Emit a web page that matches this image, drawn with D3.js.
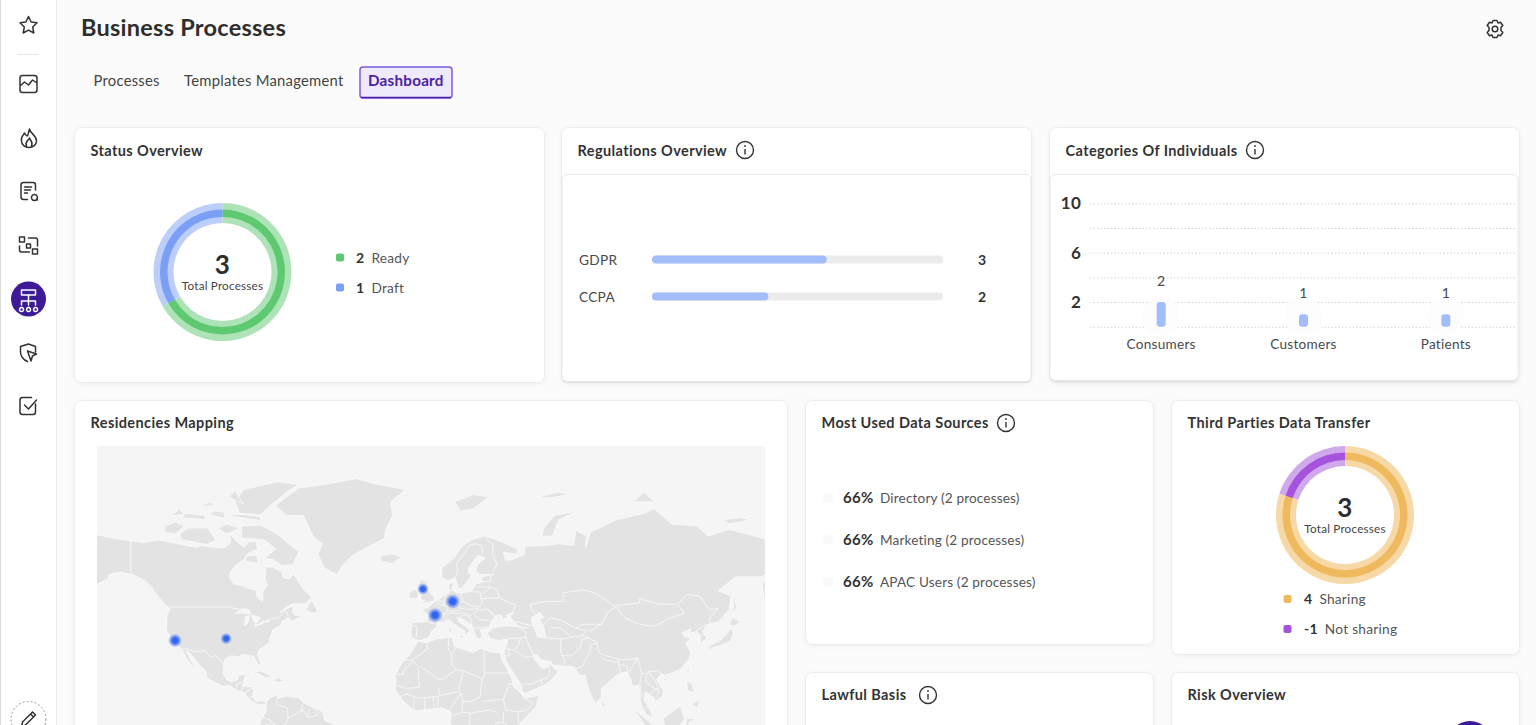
<!DOCTYPE html>
<html>
<head>
<meta charset="utf-8">
<title>Business Processes</title>
<script src="https://cdn.jsdelivr.net/npm/d3@7"></script>
<style>
  html, body { margin: 0; padding: 0; background: #fbfbfb; overflow: hidden; }
  svg { display: block; font-family: Lato, sans-serif; letter-spacing: 0.25px; }
  text { fill: #4a4a4a; }
  .cardTitle { font-size: 14.5px; font-weight: 700; fill: #333; letter-spacing: 0.4px; }
  .tab { font-size: 15px; fill: #444; }
  .num { font-weight: 700; fill: #333; }
  .axis path { display: none; }
  .card { filter: drop-shadow(0 1px 2px rgba(0,0,0,0.05)); }
  .icon { fill: none; stroke: #333; stroke-width: 1.5; stroke-linejoin: round; stroke-linecap: round; }
</style>
</head>
<body>
<div id="a"></div>
<script>
// chart values
const statusLabels = ['Ready', 'Draft'];
const statusValues = [2, 1];
const statusColors = ['#5fc972', '#7b9ff7'];
const statusLights = ['#aee3b7', '#bccffa'];

const regulationNames = ['GDPR', 'CCPA'];
const regulationValues = [3, 2];

const individualNames = ['Consumers', 'Customers', 'Patients'];
const individualValues = [2, 1, 1];
const individualTicks = [10, 6, 2];
const individualGrid = [0, 2, 4, 6, 8, 10];

const sourceNames = ['Directory (2 processes)', 'Marketing (2 processes)', 'APAC Users (2 processes)'];
const sourcePercents = ['66%', '66%', '66%'];

const transferLabels = ['Sharing', 'Not sharing'];
const transferValues = [4, -1];
const transferColors = ['#efb95d', '#a552dd'];
const transferLights = ['#f6d9a6', '#d0a9ec'];

const tabNames = ['Processes', 'Templates Management', 'Dashboard'];

// residency dots [lon, lat, radius]
const residencies = [[-120.2, 36], [-96.2, 36.8], [-3.8, 55.3], [10.2, 51], [1.9, 46]];
const residencySizes = [6.5, 5.5, 5.5, 7, 7];

// map outlines, lon/lat, read by eye
const landShapes = [
  // north america
  [[-168,65.6],[-164,66.5],[-162,67],[-166,68.5],[-160,70.5],[-156.5,71.3],[-150,70.5],[-141,69.7],[-135,69.3],[-128,70],[-124,69.6],[-115,68.5],[-110,68],[-108,68.5],[-102,68],[-98,67.8],[-96,68.3],[-94,69.5],[-94.5,71.8],[-92,70],[-90,69],[-88,68],[-85.5,69.5],[-82,69.5],[-81.5,67.5],[-86,66.3],[-88,64.5],[-92,62.8],[-94.5,60.5],[-94.5,58.8],[-92.5,57],[-88,56.3],[-85,55.3],[-82.3,55.1],[-82,53],[-80,51.3],[-79,51.5],[-79,54.5],[-76.7,56.5],[-78,58.8],[-77.5,60.5],[-78,62.4],[-74,62.2],[-70,61],[-69.5,59],[-66.5,58.7],[-64.5,60.3],[-62,57.5],[-60,55.3],[-56,52.5],[-59,50.2],[-65,50.2],[-68,49],[-71,46.9],[-66,49.2],[-64.5,48.7],[-65,47],[-64,46],[-61,46],[-61,45.5],[-65.5,43.6],[-66,44.5],[-67,45],[-70,43.7],[-70.5,42],[-74,40.5],[-75.5,37.5],[-76,35],[-78,33.8],[-81,32],[-81.5,30],[-80,26.8],[-80.5,25.2],[-82,27],[-83,29],[-85,29.7],[-89,30.2],[-90,29.1],[-94,29.6],[-97,28],[-97.5,25],[-97.7,22],[-96,19],[-94,18.2],[-91,18.8],[-90.5,21],[-87,21.5],[-88,18],[-88.5,16],[-84,15.8],[-83.3,15],[-83.7,11],[-82,9],[-79.5,9.5],[-77.3,8.6],[-78.2,7.5],[-80.5,7.5],[-83,8.3],[-85.5,10],[-87.5,13],[-91,14],[-94.5,16.2],[-98,16],[-102,18],[-105.5,20],[-105.5,22.5],[-109,26],[-112.5,30],[-114.7,31.7],[-113,28],[-109.7,23],[-112,25],[-115,28.5],[-117,32.5],[-120.5,34.5],[-122.5,37.5],[-124.3,40.3],[-124,46],[-122.5,48.5],[-125,50],[-130,54.5],[-133,57],[-137,58.7],[-140,59.8],[-146,60.8],[-151,60],[-152,58.5],[-158,56.5],[-164,54.7],[-160,58.5],[-165,60.5],[-165,63],[-161,64.5],[-168,65.6]],
  // greenland
  [[-73,78.2],[-68,76],[-60,76],[-55,70.5],[-51,69],[-53,66],[-50,62],[-44,60],[-42,62.5],[-37,65.7],[-30,68],[-22,70.3],[-21,73],[-18,76],[-19,79],[-12,81.5],[-25,82.5],[-35,83.6],[-50,82.5],[-62,81.8],[-68,80],[-73,78.2]],
  // arctic canada
  [[-80,73.7],[-72,71.5],[-67,69],[-62,66.8],[-65,63],[-70,62.8],[-74,64.5],[-78,65],[-73,67.5],[-78,70],[-89,70.5],[-89,73.5],[-80,73.7]],
  [[-117,70],[-105,68.8],[-101,70],[-105,73],[-114,73],[-118,71.5]],
  [[-125,72],[-120,71.5],[-116,73.5],[-120,74.5],[-125,73.5]],
  [[-90,76.5],[-80,76.2],[-76,78],[-68,81],[-62,82.5],[-72,83],[-88,81.5],[-92,79]],
  [[-96,76],[-80,74.8],[-80,75.7],[-90,76.3]],
  [[-117,75.5],[-106,75],[-106,76],[-115,76.5]],
  [[-95,80],[-88,78.5],[-92,81.3]],
  [[-100,73],[-96,71.5],[-90,73],[-96,74]],
  [[-87,64],[-81,63.5],[-82,65.8],[-87,65.5]],
  [[-122,76],[-116,76.2],[-118,77.5]],
  [[-104,76.2],[-97,75.3],[-97,76.8],[-102,77]],
  [[-108,78],[-101,78.2],[-104,79]],
  [[-59,48],[-56,51.5],[-53,47],[-56,46.8]],
  [[-128,50.8],[-123.5,48.4],[-125,48.8]],
  [[-154.5,57.2],[-152.5,58],[-152.5,57.2]],
  // caribbean
  [[-85,22],[-80,23],[-74.2,20.2],[-77.5,19.9],[-82,22]],
  [[-74.4,18.5],[-72,20],[-68.5,18.5],[-71.5,17.8]],
  // south america
  [[-77.3,8.6],[-75.5,10.8],[-72,12],[-71.5,10.5],[-68,11.5],[-62,10.7],[-60,8.5],[-55,6],[-51,4.5],[-50,0],[-44,-2.5],[-37,-5],[-35,-8],[-39,-15],[-41,-22],[-48,-26],[-53,-34],[-70,-34],[-70,-18],[-76,-14],[-81,-5],[-80,0],[-77.5,4],[-77.3,8.6]],
  // africa
  [[-6,35.8],[-2,35],[3,36.8],[10,37.3],[11,33.5],[15,32.3],[20,31],[23,32.8],[29,31],[32.5,31],[33,28.5],[35.5,24],[37.3,21],[39,16],[43,12],[44,10.5],[51,12],[49,6],[42,-1],[39,-6],[40.5,-15],[13,-15],[13.5,-8],[9,-1],[9.5,4],[5,6],[0,5.5],[-7.5,4.5],[-13,9],[-17,14.7],[-16.3,19],[-17,21],[-13,27.5],[-10,30],[-6,35.8]],
  // eurasia
  [[-9,37],[-9.5,38.8],[-8.9,43.2],[-2,43.5],[-1.2,46],[-4.6,48.4],[-1.5,48.7],[1.5,50.8],[4,52],[7,53.5],[8.5,54],[8.2,57],[10.7,57.6],[10,55],[12,54],[14,54],[19,54.5],[21,57],[24,57.5],[24,59.3],[29.5,60],[23,60],[21,61],[22,63.3],[25.5,65],[22,65.8],[17.5,62],[17.5,60.5],[19,59.7],[16.5,57.5],[14.5,55.5],[13,55.5],[11.3,58.9],[8,58],[5.2,59],[5,62],[11,65],[14,68],[19,70],[25,71],[31,70],[41,67.5],[40,66],[34,66.7],[35,64.3],[38,64.5],[44,66],[44,68.3],[54,68.5],[60,69],[67,68.5],[68,72.5],[73,71],[72.5,68],[75,72],[81,73.5],[87,75],[100,76.5],[105,77.5],[113,74],[125,73.5],[130,71],[140,72.7],[152,71],[160,69.7],[170,70],[180,69],[180,65],[177.5,64.7],[179,62.5],[170,60],[163,59.8],[162,56],[156.5,51],[155.7,57],[160,60.5],[164,62.5],[155,59.3],[143,59.3],[135,54.7],[141,53],[140,48],[135,43.5],[130,42.5],[127.5,39.8],[129.4,37],[126.5,34.5],[126.5,37.5],[125,39.6],[121.5,39],[122,40.7],[118,39.2],[119,37.5],[122.5,37],[119.5,35],[122,31],[121,28],[117,23.5],[110,21],[108,21.7],[106,19],[109,14],[109,11.5],[105,8.7],[105,10.5],[102,12.5],[100.5,13.5],[100,10],[103.5,4],[104,1.4],[101,3],[98.5,8],[98,13],[97.5,16.5],[94.5,16],[94,19],[91.5,22.5],[89,21.8],[87,21],[82,16.5],[80,15],[80,11],[77.5,8],[75,12],[73,18],[72.5,21],[70,20.8],[69,22.3],[67,24.8],[61.5,25],[57,25.7],[56.5,27],[51.5,27.8],[50,30],[48,30],[48.5,28],[50,26.5],[51,25],[54,24],[56,26],[59.8,22.5],[55,17.5],[52,16],[45,13],[43,12.8],[42.5,16.5],[39,21.5],[35,28],[34.3,31.2],[35.8,35],[36,36.7],[32,36],[28,36.7],[26.3,39],[29,41],[35,42],[41.5,41.5],[38,44.5],[37,45.3],[39,47],[35,46],[36.5,45.2],[33.5,44.5],[33,46],[30.5,46],[28,43],[28,41.5],[26,40.7],[23,40.4],[24,38],[23,36.5],[21.5,37],[19.5,41],[19,42.3],[14,45],[12.3,45.3],[13,43.5],[16,41.8],[18.5,40],[17,39],[16,38],[15.7,40],[12.5,41.5],[10.3,43],[8.8,44.4],[6,43.2],[3,43.3],[3,41.8],[0,39.5],[-0.5,38],[-2,36.8],[-5.4,36],[-9,37]],
  // european islands
  [[-5.5,50],[1.3,51.2],[1.7,52.7],[0,53.5],[-1.5,55],[-2,57.6],[-5,58.6],[-6,56.5],[-3,54.5],[-4.5,53.2],[-5,51.7],[-3,51.3],[-5.5,50]],
  [[-10,52],[-6,52.2],[-6,54.5],[-8,55.2],[-10,54]],
  [[-24,65.5],[-18,66.3],[-14,65.3],[-18,63.4],[-23,64]],
  [[11,79],[20,80.5],[27,80],[20,77.5],[14,77]],
  [[52,71],[57,71],[60,75],[69,77],[58,76],[53,73]],
  [[50,80],[60,81],[65,80.5],[55,79.8]],
  [[95,79],[105,79],[100,81]],
  [[137,75],[145,75.5],[150,75],[140,74]],
  [[12.5,38],[15.5,38.2],[15,36.7]],
  [[8.3,41],[9.7,41],[9.5,39],[8.5,39]],
  [[8.7,42.5],[9.5,43],[9.3,41.5]],
  [[23.5,35.5],[26.3,35.2],[24.5,34.9]],
  [[32.3,35],[34.5,35.6],[33.8,34.6]],
  // asian islands
  [[130.5,33],[132,34.5],[136,36],[140,40],[141,41.2],[142,39],[140.5,35.5],[136,34],[132,33],[130.5,31.5]],
  [[140,42],[141.5,45.3],[145,43.5],[143,42]],
  [[142,46],[142,54],[143.5,49]],
  [[120,23],[121.5,25],[121,22]],
  [[108.7,19],[110.5,20],[110,18.3]],
  [[80,9.5],[82,7.5],[80.5,6]],
  [[120,18],[122,18],[124,13],[120.5,14]],
  [[122,7.5],[126,9.5],[125.5,6]],
  [[109,1],[117,7],[119,1],[116,-4],[110,-3]],
  [[95.5,5.5],[104,-2],[106,-6],[101,-3]],
  [[120,1],[125,1],[121,-1],[122,-5],[119.5,-5]]
];
// inland water drawn over the land
const waterShapes = [
  [[47,45],[51,47],[53,45],[51,44.5],[53,41],[54,37],[50,37.4],[49,40],[47.5,43]],
  [[-92,46.7],[-88,48.5],[-85,47.8],[-85,46.5],[-88,46.7]],
  [[-87.8,42],[-87,45.5],[-85,46],[-86.3,42.5]],
  [[-84,46],[-80,45],[-81.7,43.2],[-83.5,43.7]],
  [[-83,41.7],[-79,42.8],[-81,42.6]],
  [[-79.5,43.3],[-76.3,44],[-76.3,43.4]]
];

const borderLines = [
  // north america
  [[-141,69.7],[-141,60.2],[-137,59],[-134,58],[-130,55]],
  [[-123,49],[-95,49],[-89,48],[-84.5,46.5],[-82.5,45.3],[-82.5,42],[-79,43],[-76,44.5],[-71.5,45],[-69,47.3],[-67.5,47],[-67,45]],
  [[-117,32.5],[-114.7,32.5],[-111,31.3],[-106.5,31.8],[-103,29],[-101,29.7],[-97.5,26]],
  [[-92,14.5],[-91,17],[-89,17.8],[-88,18.5]],
  [[-89,14],[-88.2,15.8]],
  [[-87.5,13],[-85,14.5],[-83.3,15]],
  [[-85.7,11],[-83.7,11]],
  [[-83,8.3],[-82.6,9.5]],
  [[-77.3,8.6],[-77.9,7.3]],
  // south america
  [[-72,12],[-72.5,7.5],[-67.5,6],[-67,1],[-70,-4]],
  [[-60,8.5],[-61,4.5],[-60,5]],
  [[-57,6],[-58,1.5]],
  [[-54,5.5],[-54,2.2]],
  [[-67,1],[-60,5],[-58,1.5],[-54,2.2],[-51.5,4.3]],
  [[-79,1.5],[-75,0]],
  [[-80.3,-3.5],[-75,-1],[-70,-4]],
  // europe
  [[-1.7,43.3],[3,42.4]],
  [[-8.8,42],[-6.5,41.7],[-7,37.2]],
  [[2.6,51],[4.2,50],[6,49.5],[8,49],[7.5,47.5],[6,46.3],[7,44],[7.5,43.8]],
  [[3.4,51.4],[6,50.8],[7,53.3]],
  [[6,50.8],[6,49.5]],
  [[14,54],[15,51],[12,50.3],[13.7,48.7],[13,47.5],[9.6,47.5],[7.5,47.5]],
  [[8.6,54.9],[10,54.8]],
  [[19.5,54.4],[23,54.3],[24,50.5],[22.5,49],[19,49.5],[15,51]],
  [[6,46.3],[10.5,46.8],[13,46.5],[16,46.8]],
  [[13.7,48.7],[17,48],[22.5,48.5]],
  [[16,46.8],[18.5,45.8],[22,47.8]],
  [[22,47.8],[26.5,48.2],[29.7,45.3]],
  [[22.5,44.3],[27,44],[28.5,43.7]],
  [[20.5,46],[22.5,44.3]],
  [[13.6,45.5],[16,46],[18.5,45],[19.3,42.2]],
  [[19.4,41.5],[21,40.8],[26,41.5],[26,40.8]],
  [[26.5,41.5],[28,42]],
  [[21,56],[28,56]],
  [[24,57.8],[28,57.8],[28,59.5]],
  [[23.5,52],[32,52.3]],
  [[24,53.5],[28,56],[31,55],[32,52.3]],
  [[32,52.3],[40,49.6],[38,47]],
  [[26.6,48.3],[30,46]],
  [[29,61],[31,63],[29,66],[29,69],[26,70]],
  [[11.3,59],[12.5,61],[12,63.5],[14,65],[18,68.5],[20.5,69]],
  [[20.5,69],[24,68.5],[24,66]],
  // africa
  [[-2,35],[-1.5,32.5],[-8.7,28],[-8.7,27.3]],
  [[-13,27.7],[-8.7,27.7]],
  [[-17,21.3],[-13,21.3],[-13,23],[-8.7,27]],
  [[-16.5,16.5],[-12,15],[-5.5,15.5],[-6,25],[-8.7,27.3]],
  [[-5,25],[1,21],[3.5,19],[6,19.4],[12,23.5]],
  [[8.5,37],[8,33],[9.5,30],[10,25],[12,23.5]],
  [[11.5,33],[10,30]],
  [[25,31.5],[25,20]],
  [[12,23.5],[15,23],[24,19.5],[25,20]],
  [[25,22],[37,22]],
  [[3.5,15.4],[4,11.7],[13,13.5],[15,23]],
  [[13.5,13.5],[15,9],[19,9],[23,11],[24,19.5]],
  [[24,9],[34,10]],
  [[37,17.5],[34,10],[35,5],[41,4]],
  [[37,17.5],[43,12.5]],
  [[43,11],[48,8],[45,5],[41,4],[41,-1.5]],
  [[3,6.3],[3.5,11.5]],
  [[8.5,4.8],[14,12.7]],
  [[1.5,6.1],[1,11]],
  [[-3,5],[-2.8,11]],
  [[-8,4.5],[-8,10.5]],
  [[-12,12.5],[-5.5,10.5],[3.5,11.5]],
  [[-15,11],[-11,12.5]],
  [[15,9],[14.5,4],[9.8,2]],
  [[14.5,4],[18.5,3.5],[27.5,5],[31,3.7]],
  [[34,4],[34,-1],[31,-1],[29.5,-3]],
  [[34,-1],[39,-4.5]],
  [[11,-5],[18,-4],[18.5,3.5]],
  // asia
  [[36,36.7],[42,37],[44.7,37.3]],
  [[41.5,41.5],[44,40],[44.7,37.3]],
  [[44.7,37.3],[46,34],[48,30]],
  [[48,29.5],[44,29],[39,32],[36,32.5]],
  [[42,37],[41,34],[39,32]],
  [[35,29.5],[37,30],[36,32.5],[35.6,33]],
  [[43,17],[47,17],[52,19],[55,20],[56,24]],
  [[52,16.7],[52,19]],
  [[51.5,24],[56,25]],
  [[61,36.6],[61,31],[63,27],[61.5,25]],
  [[61,29.7],[66,29.5],[70,33],[71,36.5],[74.5,37]],
  [[61,36.6],[66,37.3],[71,38],[74.5,37]],
  [[54,37.2],[61,36.6]],
  [[52.5,42],[56,45],[61,44],[68,41],[71,42.5],[80,42.5]],
  [[47,48],[47,50],[54,51],[62,51],[62,54],[71,55],[77,54],[87,49]],
  [[47,48],[49,46.5]],
  [[80,42.5],[83,47],[87,49]],
  [[74,39.5],[80,42.5]],
  [[87,49],[91,45],[98,42.5],[105,41.7],[112,44.8],[119,46.7],[116,49.8]],
  [[87,49.5],[98,50.5],[98,52],[107,50],[116,50]],
  [[116,50],[120,53.5],[126,53],[131,48],[135,48.5],[131,45],[131,42.7]],
  [[124.5,40],[128,41.7],[130.5,42.5]],
  [[125,37.8],[128.5,38.5]],
  [[74.5,37],[78,35],[79,31],[81,30],[88,28],[92,28],[97,28.5],[98,25],[99,22],[101,21.5],[102,22.5],[106,23],[108,21.7]],
  [[68,23.7],[71,25],[74.5,31],[75,34],[78,35]],
  [[80,29],[81,28],[88,26.5],[88,28]],
  [[88,26],[89,22],[92,21],[92.5,25],[88,26]],
  [[92.5,21],[94,24],[97,28.5]],
  [[99,22],[98,17],[99,11]],
  [[101,21.5],[101,18],[105,15],[107,15],[105,19],[102,22.5]],
  [[102.5,12],[105,14.5],[107,14],[106,11]],
  [[100.5,6.5],[102,6]],
  [[56,41.3],[61,41],[66,37.3]],
  [[68,41],[73,40],[71,38]],
  [[40,43.5],[48,41.8]],
  [[41.5,41.5],[46,41]]
];

const width = 1536;
const height = 725;
const svg = d3.select('#a').append('svg').attr('width', width).attr('height', height);
const defs = svg.append('defs');

// ---- page frame
svg.append('rect').attr('width', width).attr('height', height).attr('fill', '#fbfbfb');
svg.append('rect').attr('width', 56).attr('height', height).attr('fill', '#ffffff');
svg.append('line').attr('x1', 56.5).attr('x2', 56.5).attr('y1', 0).attr('y2', height).attr('stroke', '#e9e9e9');
svg.append('line').attr('x1', 0.5).attr('x2', 0.5).attr('y1', 0).attr('y2', height).attr('stroke', '#dcdcdc');

// ---- sidebar icons
function icon(cx, cy, d) {
  svg.append('path').attr('class', 'icon').attr('transform', `translate(${cx},${cy})`).attr('d', d);
}
icon(28.5, 25, 'M0-8.5 L2.6-3 8.5-2.2 4.2 2 5.3 8 0 5.1-5.3 8-4.2 2-8.5-2.2-2.6-3Z');
svg.append('line').attr('x1', 17).attr('x2', 39).attr('y1', 54.5).attr('y2', 54.5).attr('stroke', '#e6e6e6');
icon(28.5, 84, 'M-8.5-6 Q-8.5-8.5-6-8.5 H6 Q8.5-8.5 8.5-6 V6 Q8.5 8.5 6 8.5 H-6 Q-8.5 8.5-8.5 6Z M-8.5 2 L-4-2 0 1 4-4 8.5-1');
icon(28.5, 138, 'M1-9 C2-4 8-3 8 3 A7.5 6.5 0 0 1-7 3 C-8-1-5-3-4-5 C-3-3-2-2-1-2 C0-4 0-6 1-9Z M-2 8 C-4 3 0 3 1 0 C2 3 5 4 3 8');
icon(28.5, 191, 'M7-1 V-6 Q7-8.5 4.5-8.5 H-5 Q-7.5-8.5-7.5-6 V6 Q-7.5 8.5-5 8.5 H-1 M-4-4 H3 M-4-1 H2 M-4 2 H-1 M6 3.5 A3 3 0 1 1 5.9 3.5 M8 8 L9 9');
icon(28.5, 245, 'M-9-8 h5 v5 h-5Z M-2 -1 h4 v4 h-4Z M4 4 h5 v5 h-5Z M0-7 H7 Q9-7 9-5 V1 M-9 1 V5 Q-9 7-7 7 H1');
svg.append('circle').attr('cx', 28.5).attr('cy', 299).attr('r', 17.5).attr('fill', '#3d1a96');
svg.append('path').attr('class', 'icon').attr('transform', 'translate(28.5,299)').style('stroke', '#fff')
  .attr('d', 'M-7-9 H7 V-4 H-7Z M0-4 V2 M-7 6 V2 H7 V6 M0 2 V6 M-7 8.5 a2 2 0 1 0 .1 0 M0 8.5 a2 2 0 1 0 .1 0 M7 8.5 a2 2 0 1 0 .1 0');
icon(28.5, 353, 'M0-9 L7-6.5 V-1 M-1 8.5 C-5 7-8 3-8 -1 V-6.5 L0-9 M-1-2 L8 1 4 3 2.5 8Z');
icon(28.5, 406, 'M7-2 V6 Q7 8.5 4.5 8.5 H-6 Q-8.5 8.5-8.5 6 V-6 Q-8.5-8.5-6-8.5 H3 M-4-1 L0 3 8-6');
svg.append('circle').attr('cx', 28.5).attr('cy', 719).attr('r', 17.5).attr('fill', 'none').attr('stroke', '#999').attr('stroke-dasharray', '2 2');
icon(28.5, 719, 'M-7 8 L-6 3 4-7 7-4-3 6Z M2-5 L5-2');

// ---- header
svg.append('text').attr('x', 81).attr('y', 36).attr('font-size', 23.5).attr('font-weight', 700).style('fill', '#2e2e2e').text('Business Processes');
icon(1495, 29, 'M-2-8.5 H2 L3-6 5.5-6.8 7.8-3.5 6-1.5 V1.5 L7.8 3.5 5.5 6.8 3 6 2 8.5 H-2 L-3 6-5.5 6.8-7.8 3.5-6 1.5 V-1.5 L-7.8-3.5-5.5-6.8-3-6Z M2.8 0 A2.8 2.8 0 1 1-2.8 0 A2.8 2.8 0 1 1 2.8 0Z');

svg.append('rect').attr('x', 360).attr('y', 67).attr('width', 92).attr('height', 31).attr('rx', 3)
  .attr('fill', '#efe9fb').attr('stroke', '#7b5be0').attr('stroke-width', 1.5);
svg.append('line').attr('x1', 361).attr('x2', 451).attr('y1', 97.5).attr('y2', 97.5).attr('stroke', '#4a22a8').attr('stroke-width', 1.6);
const tabX = [93.5, 184, 368];
const tabSize = [14.8, 14.8, 15.2];
svg.selectAll('.tab').data(tabNames).join('text').attr('class', 'tab')
  .attr('x', (d, i) => tabX[i]).attr('y', 85.5)
  .attr('font-weight', (d, i) => i === 2 ? 700 : 400)
  .style('font-size', (d, i) => tabSize[i] + 'px')
  .style('fill', (d, i) => i === 2 ? '#4a22a8' : '#444')
  .text(d => d);

// ---- cards
function card(x, y, w, h, title, infoX) {
  svg.append('rect').attr('class', 'card').attr('x', x + 0.5).attr('y', y + 0.5).attr('width', w).attr('height', h).attr('rx', 7)
    .attr('fill', '#fff').attr('stroke', '#ececec');
  svg.append('text').attr('class', 'cardTitle').attr('x', x + 16.5).attr('y', y + (y > 300 ? 28 : 29)).text(title);
  if (infoX) {
    const g = svg.append('g').attr('transform', `translate(${infoX},${y + 23})`);
    g.append('circle').attr('r', 8.5).attr('fill', 'none').attr('stroke', '#333').attr('stroke-width', 1.4);
    g.append('line').attr('y1', -1).attr('y2', 4.5).attr('stroke', '#333').attr('stroke-width', 1.4);
    g.append('circle').attr('cy', -4).attr('r', 0.9).attr('fill', '#333');
  }
}
function innerPanel(x, y, w, h) {
  svg.append('rect').attr('x', x).attr('y', y + 1.5).attr('width', w).attr('height', h).attr('rx', 5).attr('fill', '#dedede');
  svg.append('rect').attr('x', x).attr('y', y).attr('width', w).attr('height', h).attr('rx', 5)
    .attr('fill', '#fff').attr('stroke', '#e8e8e8');
}
card(74, 127, 470, 255, 'Status Overview');
card(561, 127, 470, 255, 'Regulations Overview', 745);
card(1049, 127, 470, 255, 'Categories Of Individuals', 1255);
card(74, 400, 713, 345, 'Residencies Mapping');
card(805, 400, 348, 244, 'Most Used Data Sources', 1006);
card(1171, 400, 348, 254, 'Third Parties Data Transfer');
card(805, 672, 348, 90, 'Lawful Basis', 928);
card(1171, 672, 348, 90, 'Risk Overview');

// ---- donuts
function donut(cx, cy, values, colors, lights) {
  const pieData = d3.pie().sort(null).value(d => Math.abs(d))(values);
  const g = svg.append('g').attr('transform', `translate(${cx},${cy})`);
  g.selectAll('.light').data(pieData).join('path').attr('class', 'light')
    .attr('d', d3.arc().innerRadius(49).outerRadius(69))
    .attr('fill', (d, i) => lights[i]);
  g.selectAll('.dark').data(pieData).join('path').attr('class', 'dark')
    .attr('d', d3.arc().innerRadius(55).outerRadius(62.5))
    .attr('fill', (d, i) => colors[i]);
  g.append('text').attr('text-anchor', 'middle').attr('y', 2).attr('font-size', 26).attr('font-weight', 700).style('fill', '#2e2e2e').text('3');
  g.append('text').attr('text-anchor', 'middle').attr('y', 17.5).attr('font-size', 11.7).style('fill', '#444').style('letter-spacing', '0.2px').text('Total Processes');
}
donut(222.5, 272, statusValues, statusColors, statusLights);
donut(1345, 515, transferValues, transferColors, transferLights);

function legend(x, ys, textX, labels, values, colors) {
  labels.forEach((label, i) => {
    svg.append('rect').attr('x', x - 4).attr('y', ys[i] - 4).attr('width', 8).attr('height', 8).attr('rx', 2).attr('fill', colors[i]);
    const t = svg.append('text').attr('x', textX).attr('y', ys[i] + 5).attr('font-size', 13.7);
    t.append('tspan').attr('class', 'num').attr('font-size', 14).text(values[i]);
    t.append('tspan').attr('dx', 7).style('fill', '#555').text(label);
  });
}
legend(340, [257.5, 287.5], 356, statusLabels, statusValues, statusColors);
legend(1287.5, [599, 629], 1304, transferLabels, transferValues, transferColors);

// ---- regulations overview
innerPanel(562, 174.5, 469, 207);
const regScale = d3.scaleLinear().domain([0, 5]).range([652, 943]);
const regY = d3.scaleBand().domain(regulationNames).range([241, 315]);
const regRows = svg.selectAll('.reg').data(regulationNames).join('g').attr('class', 'reg');
regRows.append('rect').attr('x', regScale(0)).attr('y', d => regY(d) + regY.bandwidth() / 2 - 4)
  .attr('width', regScale(5) - regScale(0)).attr('height', 8).attr('rx', 4).attr('fill', '#ebebeb');
regRows.append('rect').attr('x', regScale(0)).attr('y', d => regY(d) + regY.bandwidth() / 2 - 4)
  .attr('width', (d, i) => regScale(regulationValues[i]) - regScale(0)).attr('height', 8).attr('rx', 4).attr('fill', '#a3bcfa');
regRows.append('text').attr('x', 579).attr('y', d => regY(d) + regY.bandwidth() / 2 + 5).attr('font-size', 13.7).text(d => d);
regRows.append('text').attr('class', 'num').attr('x', 978).attr('y', d => regY(d) + regY.bandwidth() / 2 + 5)
  .attr('font-size', 14).text((d, i) => regulationValues[i]);

// ---- categories of individuals
innerPanel(1050, 174.5, 468, 206);
const catY = d3.scaleLinear().domain([0, 10]).range([326.7, 203.3]);
const catX = d3.scaleBand().domain(individualNames).range([1090, 1517]);
svg.append('g').attr('class', 'axis').attr('transform', 'translate(1090,0)')
  .call(d3.axisLeft(catY).tickValues(individualGrid).tickSize(-425).tickFormat(''))
  .call(g => g.selectAll('line').attr('stroke', '#d4d4d4').attr('stroke-dasharray', '1.5 2'));
svg.append('g').attr('class', 'axis').attr('transform', 'translate(1084,0)')
  .call(d3.axisLeft(catY).tickValues(individualTicks).tickSize(0))
  .call(g => g.selectAll('text').attr('font-size', 17).attr('font-weight', 700)
    .attr('font-family', 'Lato, sans-serif').style('fill', '#333'));
svg.append('g').attr('class', 'axis').attr('transform', 'translate(0,326.7)')
  .call(d3.axisBottom(catX).tickSize(0).tickPadding(12.5))
  .call(g => g.selectAll('text').attr('font-size', 13.6).attr('font-family', 'Lato, sans-serif').style('fill', '#4a4a4a'));
const catBars = svg.selectAll('.cat').data(individualNames).join('g').attr('class', 'cat');
catBars.append('circle').attr('cx', d => catX(d) + catX.bandwidth() / 2).attr('cy', 316).attr('r', 19).attr('fill', '#fdfdfd');
catBars.append('rect').attr('x', d => catX(d) + catX.bandwidth() / 2 - 4.5)
  .attr('y', (d, i) => catY(individualValues[i])).attr('width', 9)
  .attr('height', (d, i) => catY(0) - catY(individualValues[i])).attr('rx', 3).attr('fill', '#a3bcfa');
catBars.append('text').attr('x', d => catX(d) + catX.bandwidth() / 2).attr('text-anchor', 'middle')
  .attr('y', (d, i) => catY(individualValues[i]) - 16).attr('font-size', 14).text((d, i) => individualValues[i]);

// ---- residencies map
const mapBox = {x: 97, y: 446, w: 668, h: 290};
defs.append('clipPath').attr('id', 'mapClip').append('rect')
  .attr('x', mapBox.x).attr('y', mapBox.y).attr('width', mapBox.w).attr('height', mapBox.h);
svg.append('rect').attr('x', mapBox.x).attr('y', mapBox.y).attr('width', mapBox.w).attr('height', mapBox.h).attr('fill', '#f5f5f5');

// miller projection
const miller = d3.geoProjection((lam, phi) => [lam, 1.25 * Math.log(Math.tan(Math.PI / 4 + 0.4 * phi))])
  .scale(122).translate([431, 720.6]).precision(0);
const mapLine = d3.line().x(d => miller(d)[0]).y(d => miller(d)[1]);

const mapG = svg.append('g').attr('clip-path', 'url(#mapClip)');
mapG.selectAll('.land').data(landShapes).join('path').attr('class', 'land')
  .attr('d', d => mapLine(d) + 'Z')
  .attr('fill', '#e3e3e3').attr('stroke', '#fff').attr('stroke-width', 0.6);
mapG.selectAll('.water').data(waterShapes).join('path').attr('class', 'water')
  .attr('d', d => mapLine(d) + 'Z').attr('fill', '#f5f5f5').attr('stroke', '#fff').attr('stroke-width', 0.6);
mapG.selectAll('.border').data(borderLines).join('path').attr('class', 'border')
  .attr('d', mapLine).attr('fill', 'none').attr('stroke', '#fbfbfb').attr('stroke-width', 0.8);

const dotGrad = defs.append('radialGradient').attr('id', 'dotGrad');
dotGrad.append('stop').attr('offset', '0%').attr('stop-color', '#2d5ff0');
dotGrad.append('stop').attr('offset', '45%').attr('stop-color', '#3a6af2');
dotGrad.append('stop').attr('offset', '100%').attr('stop-color', '#7d9ff5').attr('stop-opacity', 0.3);
mapG.selectAll('.dot').data(residencies).join('circle').attr('class', 'dot')
  .attr('cx', d => miller([d[0], d[1]])[0]).attr('cy', d => miller([d[0], d[1]])[1])
  .attr('r', (d, i) => residencySizes[i]).attr('fill', 'url(#dotGrad)');

// ---- most used data sources
const srcY = d3.scalePoint().domain(sourceNames).range([498, 582]);
const srcRows = svg.selectAll('.src').data(sourceNames).join('g').attr('class', 'src');
srcRows.append('circle').attr('cx', 828).attr('cy', d => srcY(d)).attr('r', 5).attr('fill', '#f9f9f9');
srcRows.append('text').attr('class', 'num').attr('x', 843).attr('y', d => srcY(d) + 5).attr('font-size', 15)
  .text((d, i) => sourcePercents[i]);
srcRows.append('text').attr('x', 880).attr('y', d => srcY(d) + 5).attr('font-size', 13.6).style('letter-spacing', '0.15px').style('fill', '#555').text(d => d);

// chat button peeking at the bottom
svg.append('circle').attr('cx', 1470).attr('cy', 743).attr('r', 22).attr('fill', '#3d1a96');
</script>
</body>
</html>
